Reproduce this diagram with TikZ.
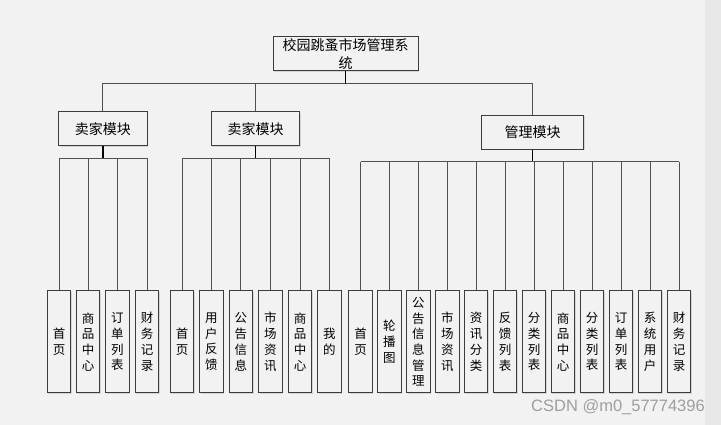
\documentclass[tikz,border=0pt]{standalone}
\usepackage{fontspec}
\newfontfamily\cjk{Noto Sans CJK SC}
\newfontfamily\wm{Liberation Sans}
\usetikzlibrary{shadows}
\definecolor{bg}{HTML}{F2F2F2}
\definecolor{strip}{HTML}{E8E8E8}
\definecolor{bordc}{HTML}{3C3C3C}
\definecolor{busc}{HTML}{505050}
\begin{document}
\begin{tikzpicture}[x=1pt,y=-1pt,
  box/.style={draw=bordc, line width=1pt, fill=bg, inner sep=0pt, align=center,
    drop shadow={shadow xshift=1pt, shadow yshift=-1pt, opacity=0.25}},
  headbox/.style={box, font=\cjk\fontsize{14}{17.4}\selectfont},
  leaf/.style={box, minimum width=23.5pt, minimum height=101.7pt,
    font=\cjk\fontsize{12.5}{15.7}\selectfont},
  bus/.style={draw=busc, line width=0.9pt},
  stem/.style={draw=black, line width=1.4pt}]
\useasboundingbox (0,0) rectangle (721,425);
\fill[bg] (0,0) rectangle (721,425);
\fill[strip] (705,0) rectangle (721,425);

% root
\node[headbox, minimum width=145pt, minimum height=34pt] (root) at (345.5,54) {校园跳蚤市场管理系\\统};
% modules
\node[headbox, minimum width=88.3pt, minimum height=34pt] (mL) at (102.9,128.7) {卖家模块};
\node[headbox, minimum width=88.3pt, minimum height=34pt] (mM) at (255.5,128.7) {卖家模块};
\node[headbox, minimum width=102pt, minimum height=33.7pt] (mR) at (532.7,132.2) {管理模块};

\coordinate (bus0) at (345.5,83.7);
\coordinate (busL) at (102.9,158.3);
\coordinate (busM) at (255.5,158.3);
\coordinate (busR) at (532.7,161.7);

% leaves left
\node[leaf] (l1) at (59,341.8) {首\\页};
\node[leaf] (l2) at (88,341.8) {商\\品\\中\\心};
\node[leaf] (l3) at (117.3,341.8) {订\\单\\列\\表};
\node[leaf] (l4) at (147,341.8) {财\\务\\记\\录};
% leaves middle
\node[leaf] (m1) at (182,341.8) {首\\页};
\node[leaf] (m2) at (211.3,341.8) {用\\户\\反\\馈};
\node[leaf] (m3) at (240.8,341.8) {公\\告\\信\\息};
\node[leaf] (m4) at (270.3,341.8) {市\\场\\资\\讯};
\node[leaf] (m5) at (300,341.8) {商\\品\\中\\心};
\node[leaf] (m6) at (329.4,341.8) {我\\的};
% leaves right
\node[leaf] (r1) at (360.5,341.8) {首\\页};
\node[leaf] (r2) at (389.4,341.8) {轮\\播\\图};
\node[leaf] (r3) at (418.3,341.8) {公\\告\\信\\息\\管\\理};
\node[leaf] (r4) at (447.3,341.8) {市\\场\\资\\讯};
\node[leaf] (r5) at (476.2,341.8) {资\\讯\\分\\类};
\node[leaf] (r6) at (505.1,341.8) {反\\馈\\列\\表};
\node[leaf] (r7) at (534.1,341.8) {分\\类\\列\\表};
\node[leaf] (r8) at (563.1,341.8) {商\\品\\中\\心};
\node[leaf] (r9) at (592,341.8) {分\\类\\列\\表};
\node[leaf] (r10) at (621,341.8) {订\\单\\列\\表};
\node[leaf] (r11) at (650,341.8) {系\\统\\用\\户};
\node[leaf] (r12) at (679,341.8) {财\\务\\记\\录};

% root connectors
\draw[bus] (mL.north) |- (mR.north |- bus0) -- (mR.north);
\draw[bus] (mM.north) -- (mM.north |- bus0);
\draw[draw=black, line width=1pt] (root.south) -- (bus0);

% left group
\draw[stem] (mL.south) -- (busL);
\draw[bus] (l1.north |- busL) -- (l4.north |- busL);
\foreach \n in {l1,l2,l3,l4} \draw[bus] (\n.north |- busL) -- (\n.north);
% middle group
\draw[stem, line width=1pt] (mM.south) -- (busM);
\draw[bus] (m1.north |- busM) -- (m6.north |- busM);
\foreach \n in {m1,m2,m3,m4,m5,m6} \draw[bus] (\n.north |- busM) -- (\n.north);
% right group
\draw[stem] (mR.south) -- (busR);
\draw[bus] (r1.north |- busR) -- (r12.north |- busR);
\foreach \n in {r1,r2,r3,r4,r5,r6,r7,r8,r9,r10,r11,r12} \draw[bus] (\n.north |- busR) -- (\n.north);

% watermark
\node[anchor=east, inner sep=0pt, text=black!38, font=\wm\fontsize{16.5}{18}\selectfont] (wmk) at (705,406.7) {CSDN @m0\_57774396};
\end{tikzpicture}
\end{document}
